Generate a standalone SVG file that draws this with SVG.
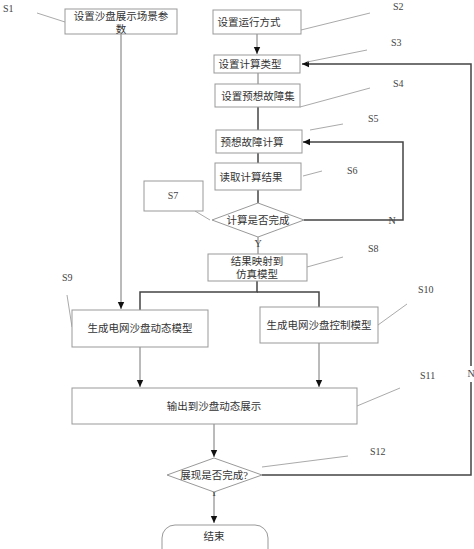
<svg xmlns="http://www.w3.org/2000/svg" width="474" height="549" viewBox="0 0 474 549">
<defs>
<style>
.box{fill:#fff;stroke:#999;stroke-width:1}
.t{font-family:"Liberation Serif","Noto Sans CJK SC",serif;font-size:10.5px;fill:#333;text-anchor:middle}
.lbl{font-family:"Liberation Serif","Noto Sans CJK SC",serif;font-size:10px;fill:#444}
.ld{stroke:#aaa;stroke-width:1;fill:none}
.c{stroke:#777;stroke-width:1;fill:none}
.ck{stroke:#444;stroke-width:1.5;fill:none}
</style>
<marker id="ah" markerWidth="8" markerHeight="8" refX="7" refY="4" orient="auto" markerUnits="userSpaceOnUse">
<path d="M0,0.8 L7,4 L0,7.2 Z" fill="#111"/>
</marker>
</defs>
<rect width="474" height="549" fill="#fff"/>
<g id="connectors">
<line class="c" x1="121" y1="34" x2="121" y2="309" marker-end="url(#ah)"/>
<line class="c" x1="257" y1="34" x2="257" y2="54" marker-end="url(#ah)"/>
<line class="c" x1="258" y1="73" x2="258" y2="84"/>
<line class="ck" x1="258" y1="107" x2="258" y2="130"/>
<line class="ck" x1="258" y1="153" x2="258" y2="163"/>
<line class="ck" x1="258" y1="190" x2="258" y2="203"/>
<line class="c" x1="258" y1="237" x2="258" y2="254"/>
<polyline class="ck" points="304,220 403,220 403,142 303,142" marker-end="url(#ah)"/>
<polyline class="ck" points="257,281 257,292 140,292 140,310"/>
<polyline class="ck" points="257,292 319,292 319,307"/>
<line class="c" x1="140" y1="347" x2="140" y2="387" marker-end="url(#ah)"/>
<line class="c" x1="319" y1="343" x2="319" y2="387" marker-end="url(#ah)"/>
<line class="c" x1="214" y1="424" x2="214" y2="457" marker-end="url(#ah)"/>
<line class="c" x1="214" y1="492" x2="214" y2="523" marker-end="url(#ah)"/>
<polyline class="ck" points="262,475 471,475 471,382"/>
<polyline class="ck" points="471,366 471,64 302,64" marker-end="url(#ah)"/>
<line class="ld" x1="37" y1="13" x2="65" y2="22"/>
<line class="ld" x1="301" y1="30" x2="370" y2="13"/>
<line class="ld" x1="307" y1="62" x2="367" y2="50"/>
<line class="ld" x1="300" y1="107" x2="370" y2="88"/>
<line class="ld" x1="310" y1="130" x2="343" y2="124"/>
<line class="ld" x1="303" y1="176" x2="322" y2="171"/>
<line class="ld" x1="195" y1="211" x2="210" y2="220"/>
<line class="ld" x1="307" y1="267" x2="343" y2="257"/>
<line class="ld" x1="67" y1="295" x2="72" y2="327"/>
<line class="ld" x1="378" y1="325" x2="407" y2="304"/>
<line class="ld" x1="357" y1="406" x2="400" y2="388"/>
<line class="ld" x1="262" y1="467" x2="348" y2="456"/>
<text class="lbl" x="392" y="224" text-anchor="middle">N</text>
<text class="lbl" x="471" y="377" text-anchor="middle">N</text>
<text class="lbl" x="258" y="247" text-anchor="middle">Y</text>
<text class="lbl" x="214" y="496" text-anchor="middle">Y</text>
</g>
<g id="S1">
<rect class="box" x="65" y="9" width="112" height="25"/>
<text class="t" x="121" y="20">设置沙盘展示场景参</text>
<text class="t" x="121" y="33">数</text>
<text class="lbl" x="3" y="12">S1</text>
</g>
<g id="S2">
<rect class="box" x="213" y="10" width="88" height="24"/>
<text class="t" x="249" y="26">设置运行方式</text>
<text class="lbl" x="393" y="10">S2</text>
</g>
<g id="S3">
<rect class="box" x="214" y="55" width="86" height="18"/>
<text class="t" x="250" y="68">设置计算类型</text>
<text class="lbl" x="391" y="46">S3</text>
</g>
<g id="S4">
<rect class="box" x="215" y="84" width="85" height="23"/>
<text class="t" x="258" y="100">设置预想故障集</text>
<text class="lbl" x="393" y="87">S4</text>
</g>
<g id="S5">
<rect class="box" x="216" y="130" width="86" height="23"/>
<text class="t" x="252" y="146">预想故障计算</text>
<text class="lbl" x="368" y="122">S5</text>
</g>
<g id="S6">
<rect class="box" x="215" y="163" width="86" height="27"/>
<text class="t" x="251" y="181">读取计算结果</text>
<text class="lbl" x="347" y="174">S6</text>
</g>
<g id="S7">
<rect class="box" x="144" y="181" width="59" height="30"/>
<text class="lbl" x="173" y="199" text-anchor="middle">S7</text>
<polygon class="box" points="212,220 258,203 304,220 258,237"/>
<text class="t" x="258" y="224">计算是否完成</text>
</g>
<g id="S8">
<rect class="box" x="208" y="254" width="99" height="27"/>
<text class="t" x="257" y="265">结果映射到</text>
<text class="t" x="257" y="278">仿真模型</text>
<text class="lbl" x="368" y="252">S8</text>
</g>
<g id="S9">
<rect class="box" x="72" y="310" width="136" height="37"/>
<text class="t" x="140" y="332">生成电网沙盘动态模型</text>
<text class="lbl" x="62" y="281">S9</text>
</g>
<g id="S10">
<rect class="box" x="260" y="307" width="118" height="36"/>
<text class="t" x="319" y="329">生成电网沙盘控制模型</text>
<text class="lbl" x="418" y="293">S10</text>
</g>
<g id="S11">
<rect class="box" x="72" y="388" width="285" height="36"/>
<text class="t" x="214" y="410">输出到沙盘动态展示</text>
<text class="lbl" x="420" y="379">S11</text>
</g>
<g id="S12">
<polygon class="box" points="167,475 214,458 262,475 214,492"/>
<text class="t" x="214" y="479">展现是否完成?</text>
<text class="lbl" x="370" y="455">S12</text>
</g>
<g id="end">
<rect class="box" x="162" y="525" width="106" height="40" rx="13" ry="13"/>
<text class="t" x="214" y="540">结束</text>
</g>
</svg>
